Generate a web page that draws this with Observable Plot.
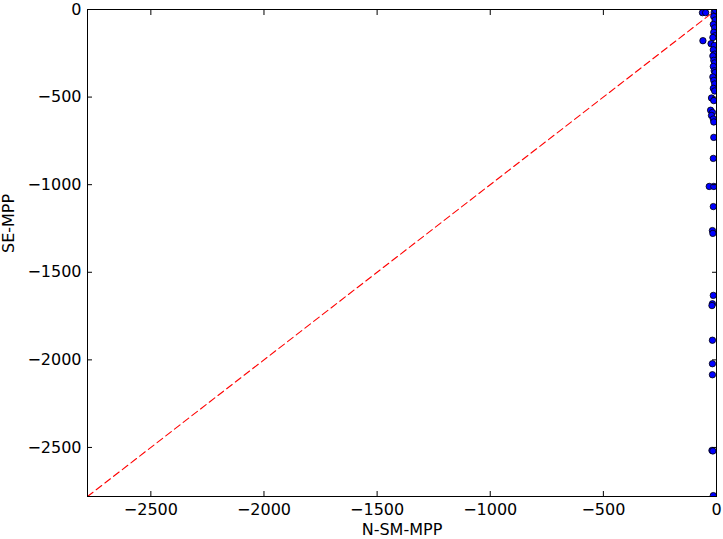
<!DOCTYPE html>
<html>
<head>
<meta charset="utf-8">
<script src="https://cdn.jsdelivr.net/npm/d3@7"></script>
<script src="https://cdn.jsdelivr.net/npm/@observablehq/plot@0.6"></script>
<style>
  html, body { margin: 0; padding: 0; background: #fff; }
  #chart svg { display: block; }
</style>
</head>
<body>
<div id="chart"></div>
<script>
const xLabel = "N-SM-MPP";
const yLabel = "SE-MPP";
const tickValues = [-2500, -2000, -1500, -1000, -500, 0];
const domainMin = -2780;
const xValues = [
  -62, -48, -10, -4, -12, -6, -14, -8, -12, -6, -16, -60, -24, -10, -14, -8, -16, -12,
  -8, -14, -10, -6, -16, -12, -8, -14, -8, -22, -12, -26, -18, -22, -14, -12, -12, -14,
  -32, -12, -14, -18, -16, -14, -18, -20, -18, -18, -18, -20, -16, -14
];
const yValues = [
  -18, -18, -15, -5, -40, -60, -85, -105, -130, -150, -160, -178, -195, -205, -230, -255, -265, -290,
  -305, -325, -350, -360, -385, -405, -425, -450, -465, -505, -520, -575, -588, -605, -625, -642, -730, -850,
  -1010, -1010, -1125, -1262, -1278, -1632, -1680, -1690, -1888, -2022, -2085, -2517, -2520, -2775
];
const points = xValues.map((x, i) => ({x, y: yValues[i]}));
const diagonal = [{v: domainMin}, {v: 0}];

const fmt = d3.format("d");
const font = "DejaVu Sans, sans-serif";

const chart = Plot.plot({
  width: 723,
  height: 539,
  marginLeft: 87,
  marginRight: 7,
  marginTop: 9,
  marginBottom: 43,
  style: {fontFamily: font, fontSize: "16px", color: "black", background: "white"},
  x: {domain: [domainMin, 0]},
  y: {domain: [domainMin, 0]},
  marks: [
    Plot.line(diagonal, {x: "v", y: "v", stroke: "#ff0000", strokeWidth: 1.1, strokeDasharray: "7,4"}),
    Plot.dot(points, {x: "x", y: "y", r: 3.2, fill: "#0000ff", stroke: "black", strokeWidth: 0.8, clip: true}),
    Plot.frame({stroke: "black", strokeWidth: 1}),
    Plot.axisX({anchor: "bottom", ticks: tickValues, tickSize: -5, tickPadding: 12, tickFormat: fmt, label: null, fontSize: 16, stroke: "black", strokeWidth: 1}),
    Plot.axisX({anchor: "top", ticks: tickValues, tickSize: -5, tickFormat: () => "", label: null, stroke: "black", strokeWidth: 1}),
    Plot.axisY({anchor: "left", ticks: tickValues, tickSize: -5, tickPadding: 11, tickFormat: fmt, label: null, fontSize: 16, stroke: "black", strokeWidth: 1}),
    Plot.axisY({anchor: "right", ticks: tickValues, tickSize: -5, tickFormat: () => "", label: null, stroke: "black", strokeWidth: 1}),
    Plot.text([xLabel], {text: d => d, frameAnchor: "bottom", dy: 33, lineAnchor: "middle", fontSize: 16, fill: "black"}),
    Plot.text([yLabel], {text: d => d, frameAnchor: "left", dx: -79, rotate: -90, lineAnchor: "middle", fontSize: 16, fill: "black"})
  ]
});
document.getElementById("chart").appendChild(chart);
</script>
</body>
</html>
